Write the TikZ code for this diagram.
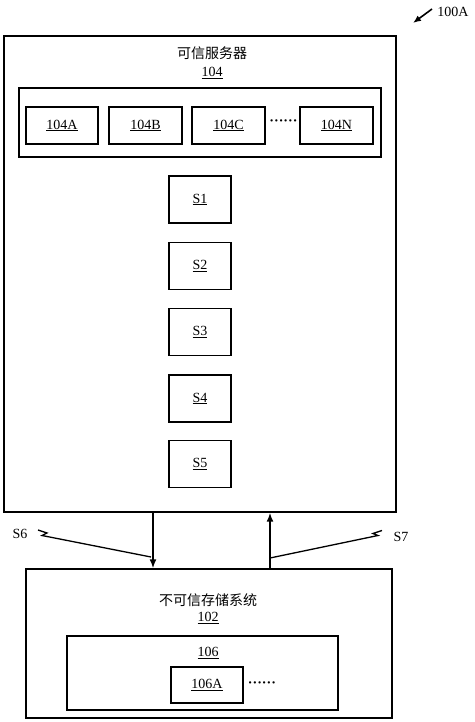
\documentclass[tikz,border=0pt]{standalone}
\usepackage{fontspec}
\setmainfont{Liberation Serif}
\newfontfamily\cjk{Noto Sans CJK SC}
\usetikzlibrary{arrows.meta}
\begin{document}
\begin{tikzpicture}[x=1pt,y=-1pt,
  box/.style={draw, line width=1.4pt, inner sep=0pt},
  lbl/.style={font=\fontsize{14}{16}\selectfont, inner sep=0pt},
  arr/.style={line width=1.6pt, -{Latex[length=9pt,width=7pt]}},
  sig/.style={line width=1.3pt, line join=miter}]
\useasboundingbox (0,0) rectangle (474,722);
% server
\node[box, minimum width=392pt, minimum height=476pt] (server) at (200,274) {};
\node[lbl] (st) at (212,53) {\cjk 可信服务器};
\node[lbl] (sn) at (212,73) {\underline{104}};
\node[box, minimum width=362pt, minimum height=69pt] (mods) at (200,122.5) {};
\node[box, lbl, minimum width=72pt, minimum height=37pt] (m1) at (62,125.5) {\underline{104A}};
\node[box, lbl, minimum width=73pt, minimum height=37pt] (m2) at (145.5,125.5) {\underline{104B}};
\node[box, lbl, minimum width=73pt, minimum height=37pt] (m3) at (228.5,125.5) {\underline{104C}};
\node[lbl] (mdots) at (283.5,123) {\textbf{······}};
\node[box, lbl, minimum width=73pt, minimum height=37pt] (m4) at (336.5,125.5) {\underline{104N}};
\foreach \i/\y in {1/199.5,2/266,3/332,4/398.5,5/464}{
  \node[box, lbl, minimum width=62pt, minimum height=47pt] (s\i) at (200,\y) {\underline{S\i}};
}
% storage
\node[box, minimum width=366pt, minimum height=149pt] (store) at (209,643.5) {};
\node[lbl] (stt) at (208,600) {\cjk 不可信存储系统};
\node[lbl] (stn) at (208,618) {\underline{102}};
\node[box, minimum width=271pt, minimum height=74pt] (b106) at (202.5,673) {};
\node[lbl] (n106) at (208,653) {\underline{106}};
\node[box, lbl, minimum width=72pt, minimum height=36pt] (b106a) at (207,685) {\underline{106A}};
\node[lbl] (bdots) at (262,685) {\textbf{······}};
% arrows
\coordinate (dn) at (153,512);
\coordinate (up) at (270,569);
\draw[arr] (dn) -- (dn |- store.north);
\draw[arr] (up) -- (up |- server.south);
% S6 / S7
\node[lbl] (l6) at (20,534) {S6};
\node[lbl] (l7) at (401,537) {S7};
\coordinate (e6) at (151,557);
\coordinate (e7) at (270,558);
\draw[sig] (38,530) -- (47,533) -- (42,535.5) -- (e6);
\draw[sig] (e7) -- (378,535.5) -- (373,533.5) -- (382,530.5);
% 100A
\node[lbl] (l100) at (453,12) {100A};
\coordinate (a0) at (432,9);
\coordinate (a1) at (413,23);
\draw[line width=1.6pt, -{Latex[length=8pt,width=6.5pt]}] (a0) -- (a1);
\end{tikzpicture}
\end{document}
